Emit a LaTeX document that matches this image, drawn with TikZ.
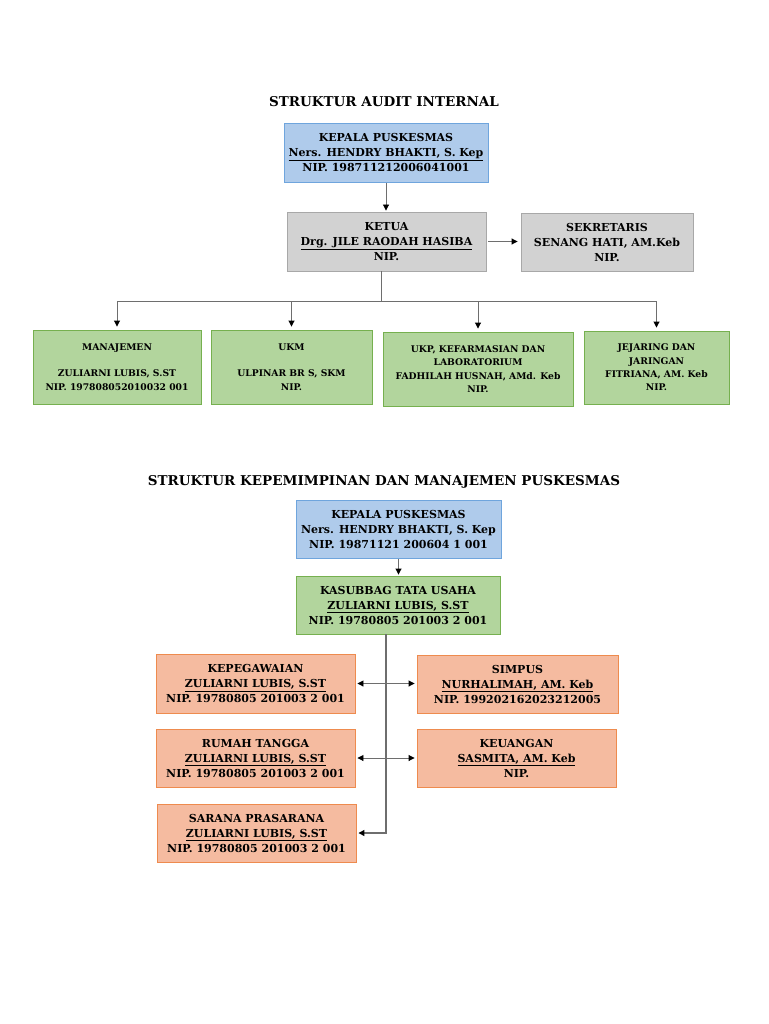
\documentclass[tikz,border=0pt]{standalone}
\usepackage{fontspec}
\setmainfont{DejaVu Serif}
\usetikzlibrary{arrows.meta}
\definecolor{bluefill}{HTML}{AFCBEB}
\definecolor{blueline}{HTML}{6FA5DD}
\definecolor{grayfill}{HTML}{D2D2D2}
\definecolor{grayline}{HTML}{A8A8A8}
\definecolor{greenfill}{HTML}{B2D59D}
\definecolor{greenline}{HTML}{76B04F}
\definecolor{orangefill}{HTML}{F5BBA0}
\definecolor{orangeline}{HTML}{EE8B4E}
\definecolor{conn}{HTML}{6E6E6E}
\begin{document}
\begin{tikzpicture}[x=1pt,y=-1pt,
  box/.style={draw, line width=0.9pt, align=center, inner sep=0pt,
    font=\bfseries\fontsize{11}{15}\selectfont},
  smallbox/.style={box, font=\bfseries\fontsize{9.2}{13.3}\selectfont},
  bluebox/.style={box, fill=bluefill, draw=blueline},
  graybox/.style={box, fill=grayfill, draw=grayline},
  greenbox/.style={box, fill=greenfill, draw=greenline},
  greensmall/.style={smallbox, fill=greenfill, draw=greenline},
  orangebox/.style={box, fill=orangefill, draw=orangeline},
  title/.style={font=\bfseries\fontsize{13.5}{15}\selectfont, inner sep=0pt},
  line/.style={draw=conn, line width=0.9pt},
  arr/.style={line, -{Triangle[length=6pt,width=6pt,color=black]}},
  sz/.style 2 args={minimum width=#1pt, minimum height=#2pt}
]
\useasboundingbox (0,0) rectangle (768,1024);

% ---------- Top: Struktur Audit Internal ----------
\node[title] (t1) at (384,102) {STRUKTUR AUDIT INTERNAL};

\node[bluebox, sz={204}{59}] (k1) at (386,152.5)
  {KEPALA PUSKESMAS\\\underline{Ners. HENDRY BHAKTI, S. Kep}\\NIP. 198711212006041001};
\node[graybox, sz={199}{59}] (ketua) at (386.5,241.5)
  {KETUA\\\underline{Drg. JILE RAODAH HASIBA}\\NIP.};
\node[graybox, sz={172}{58}] (sekr) at (607,242)
  {SEKRETARIS\\SENANG HATI, AM.Keb\\NIP.};

\node[greensmall, sz={168}{74}] (man) at (117,367)
  {MANAJEMEN\\[13.3pt]ZULIARNI LUBIS, S.ST\\NIP. 197808052010032 001};
\node[greensmall, sz={161}{74}] (ukm) at (291.5,367)
  {UKM\\[13.3pt]ULPINAR BR S, SKM\\NIP.};
\node[greensmall, sz={190}{74}] (ukp) at (478,369)
  {UKP, KEFARMASIAN DAN\\LABORATORIUM\\FADHILAH HUSNAH, AMd. Keb\\NIP.};
\node[greensmall, sz={145}{73}] (jej) at (656.5,367.5)
  {JEJARING DAN\\JARINGAN\\FITRIANA, AM. Keb\\NIP.};

\coordinate (bus) at (381,301);
\draw[arr, shorten <=1pt, shorten >=1pt] (k1.south) -- (k1.south |- ketua.north);
\draw[arr, shorten <=2pt, shorten >=3pt] (ketua.east) -- (sekr.west |- ketua.east);
\draw[line] (ketua.south -| bus) -- (bus);
\draw[line] (man.north |- bus) -- (jej.north |- bus);
\foreach \n in {man,ukm,ukp,jej}
  \draw[arr, shorten >=3pt] (\n.north |- bus) -- (\n.north);

% ---------- Bottom: Struktur Kepemimpinan ----------
\node[title] (t2) at (384,482) {STRUKTUR KEPEMIMPINAN DAN MANAJEMEN PUSKESMAS};

\node[bluebox, sz={205}{58}] (k2) at (398.5,529)
  {KEPALA PUSKESMAS\\Ners. HENDRY BHAKTI, S. Kep\\NIP. 19871121 200604 1 001};
\node[greenbox, sz={204}{58}] (kasub) at (398,605)
  {KASUBBAG TATA USAHA\\\underline{ZULIARNI LUBIS, S.ST}\\NIP. 19780805 201003 2 001};

\node[orangebox, sz={199}{59}] (kepeg) at (255.5,683.5)
  {KEPEGAWAIAN\\\underline{ZULIARNI LUBIS, S.ST}\\NIP. 19780805 201003 2 001};
\node[orangebox, sz={201}{58}] (simpus) at (517.5,684)
  {SIMPUS\\\underline{NURHALIMAH, AM. Keb}\\NIP. 199202162023212005};
\node[orangebox, sz={199}{58}] (rumah) at (255.5,758)
  {RUMAH TANGGA\\\underline{ZULIARNI LUBIS, S.ST}\\NIP. 19780805 201003 2 001};
\node[orangebox, sz={199}{58}] (keu) at (516.5,758)
  {KEUANGAN\\\underline{SASMITA, AM. Keb}\\NIP.};
\node[orangebox, sz={199}{58}] (sar) at (256.5,833)
  {SARANA PRASARANA\\\underline{ZULIARNI LUBIS, S.ST}\\NIP. 19780805 201003 2 001};

\coordinate (spine) at (386,636);
\draw[arr, shorten <=1pt, shorten >=1pt] (k2.south) -- (k2.south |- kasub.north);
\draw[arr, line width=1.3pt, shorten >=2pt] (kasub.south -| spine) |- (sar.east);
\draw[arr, shorten >=2pt] (spine |- kepeg.east) -- (kepeg.east);
\draw[arr, shorten >=2pt] (spine |- kepeg.east) -- (simpus.west |- kepeg.east);
\draw[arr, shorten >=2pt] (spine |- rumah.east) -- (rumah.east);
\draw[arr, shorten >=2pt] (spine |- rumah.east) -- (keu.west |- rumah.east);
\end{tikzpicture}
\end{document}
